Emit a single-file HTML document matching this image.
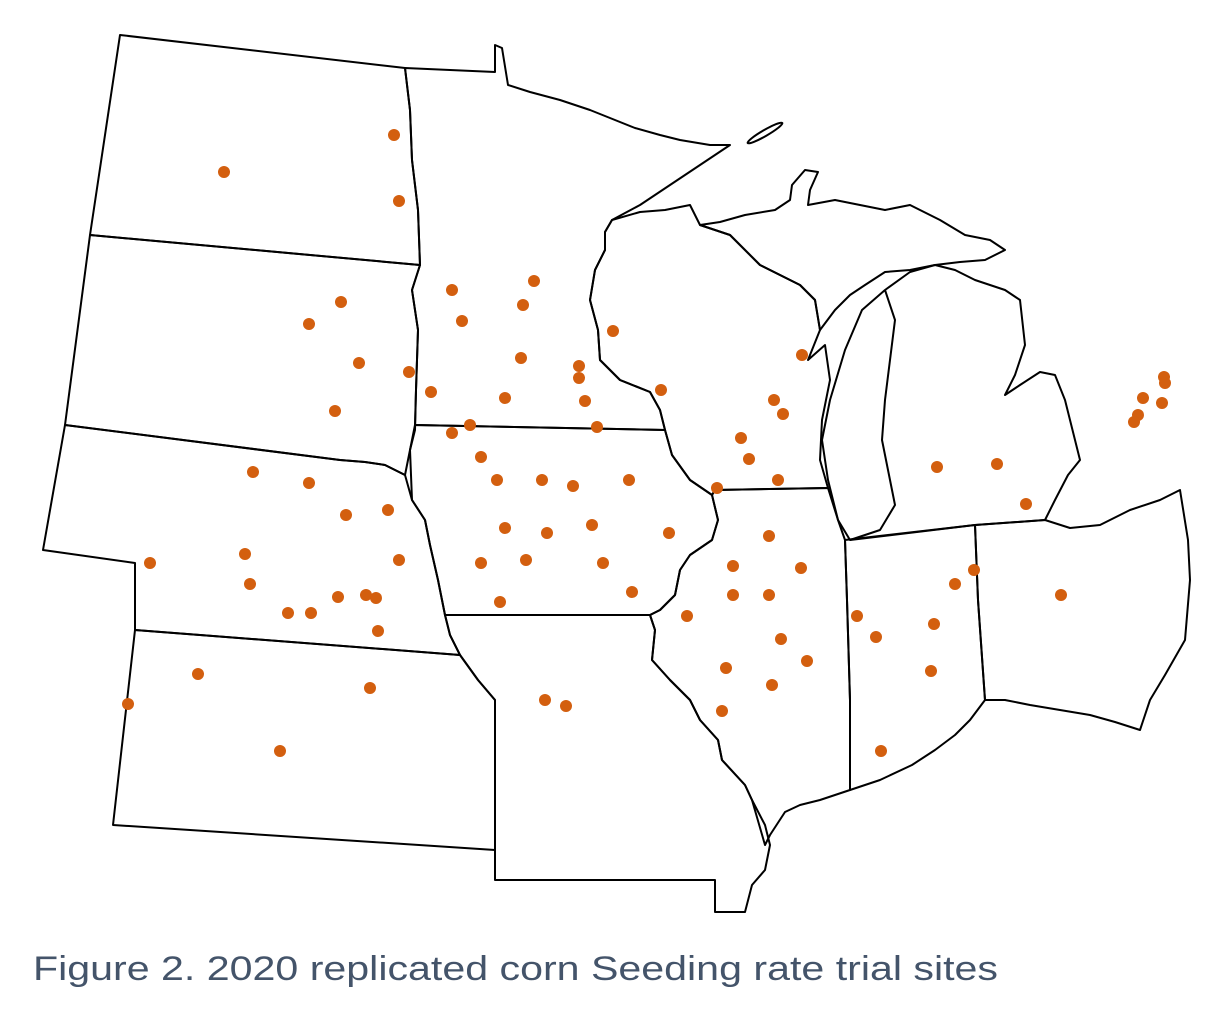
<!DOCTYPE html>
<html><head><meta charset="utf-8"><style>
html,body{margin:0;padding:0;background:#fff;}
svg{display:block;}
</style></head><body>
<svg width="1214" height="1025" viewBox="0 0 1214 1025" xmlns="http://www.w3.org/2000/svg">
<g fill="none" stroke="#000" stroke-width="2" stroke-linejoin="round">
<!-- ND -->
<path d="M120,35 L405,68 L410,110 L412,160 L418,210 L420,265 L90,235 Z"/>
<!-- SD -->
<path d="M90,235 L420,265 L412,290 L418,330 L416,390 L415,430 L410,450 L405,475 L385,465 L365,462 L340,460 L65,425 Z"/>
<!-- NE -->
<path d="M65,425 L340,460 L365,462 L385,465 L405,475 L412,500 L425,520 L430,545 L438,580 L445,615 L450,635 L460,655 L135,630 L135,563 L43,550 Z"/>
<!-- KS -->
<path d="M135,630 L460,655 L478,680 L495,700 L495,850 L113,825 Z"/>
<!-- MN -->
<path d="M405,68 L495,72 L495,45 L502,48 L508,85 L530,92 L560,100 L590,110 L610,118 L635,128 L660,135 L680,140 L710,145 L730,145 L700,165 L670,185 L640,205 L612,220 L605,232 L605,250 L595,270 L590,300 L598,330 L600,360 L620,380 L650,392 L660,410 L665,430 L415,425 L416,390 L418,330 L412,290 L420,265 L418,210 L412,160 L410,110 Z"/>
<!-- IA -->
<path d="M415,425 L665,430 L672,455 L690,480 L712,495 L718,520 L712,540 L690,555 L680,570 L675,595 L660,610 L650,615 L445,615 L438,580 L430,545 L425,520 L412,500 L410,450 Z"/>
<!-- MO -->
<path d="M445,615 L650,615 L655,630 L652,660 L670,680 L690,700 L700,720 L718,740 L722,760 L745,785 L752,800 L765,825 L770,845 L765,870 L752,885 L745,912 L715,912 L715,880 L495,880 L495,700 L478,680 L460,655 L450,635 Z"/>
<!-- IL -->
<path d="M712,495 L715,490 L828,488 L838,520 L845,540 L847,600 L850,700 L850,790 L835,795 L820,800 L800,805 L785,812 L770,835 L765,845 L752,800 L745,785 L722,760 L718,740 L700,720 L690,700 L670,680 L652,660 L655,630 L650,615 L660,610 L675,595 L680,570 L690,555 L712,540 L718,520 Z"/>
<!-- WI -->
<path d="M605,232 L612,220 L640,212 L665,210 L690,205 L700,225 L730,235 L760,265 L800,285 L815,300 L820,330 L808,360 L825,345 L830,380 L822,420 L820,460 L828,488 L715,490 L712,495 L690,480 L672,455 L665,430 L660,410 L650,392 L620,380 L600,360 L598,330 L590,300 L595,270 L605,250 Z"/>
<!-- MI UP -->
<path d="M700,225 L720,222 L745,215 L775,210 L790,200 L792,185 L805,170 L818,172 L810,190 L808,205 L835,200 L860,205 L885,210 L910,205 L940,220 L965,235 L990,240 L1005,250 L985,260 L960,262 L935,265 L910,270 L885,272 L865,285 L850,295 L835,310 L820,330 L815,300 L800,285 L760,265 L730,235 Z"/>
<!-- MI LP -->
<path d="M850,540 L838,520 L828,480 L822,440 L830,400 L845,350 L862,310 L885,290 L910,272 L935,265 L955,270 L975,280 L1005,290 L1020,300 L1025,345 L1015,375 L1005,395 L1020,385 L1040,372 L1055,375 L1065,400 L1075,440 L1080,460 L1068,475 L1055,500 L1045,520 L975,525 Z"/>
<path d="M885,290 L895,320 L890,360 L885,400 L882,440 L890,480 L895,505 L880,530 L850,540"/>
<!-- IN -->
<path d="M845,540 L975,525 L978,600 L985,700 L970,720 L955,735 L935,750 L912,765 L880,780 L850,790 L850,700 L847,600 Z"/>
<!-- OH -->
<path d="M975,525 L1045,520 L1070,528 L1100,525 L1130,510 L1160,500 L1180,490 L1188,540 L1190,580 L1185,640 L1165,675 L1150,700 L1140,730 L1115,722 L1090,715 L1060,710 L1030,705 L1005,700 L985,700 L978,600 Z"/>
<!-- lake islands -->
<ellipse cx="765" cy="133" rx="20" ry="3" transform="rotate(-30 765 133)"/>
</g>
<g fill="#d35f0f">
<circle cx="224" cy="172" r="6"/><circle cx="394" cy="135" r="6"/><circle cx="399" cy="201" r="6"/><circle cx="341" cy="302" r="6"/><circle cx="309" cy="324" r="6"/><circle cx="359" cy="363" r="6"/><circle cx="409" cy="372" r="6"/><circle cx="335" cy="411" r="6"/><circle cx="452" cy="290" r="6"/><circle cx="462" cy="321" r="6"/><circle cx="534" cy="281" r="6"/><circle cx="523" cy="305" r="6"/><circle cx="521" cy="358" r="6"/><circle cx="505" cy="398" r="6"/><circle cx="431" cy="392" r="6"/><circle cx="579" cy="366" r="6"/><circle cx="579" cy="378" r="6"/><circle cx="585" cy="401" r="6"/><circle cx="597" cy="427" r="6"/><circle cx="613" cy="331" r="6"/><circle cx="661" cy="390" r="6"/><circle cx="470" cy="425" r="6"/><circle cx="452" cy="433" r="6"/><circle cx="481" cy="457" r="6"/><circle cx="497" cy="480" r="6"/><circle cx="542" cy="480" r="6"/><circle cx="573" cy="486" r="6"/><circle cx="629" cy="480" r="6"/><circle cx="505" cy="528" r="6"/><circle cx="547" cy="533" r="6"/><circle cx="592" cy="525" r="6"/><circle cx="669" cy="533" r="6"/><circle cx="481" cy="563" r="6"/><circle cx="526" cy="560" r="6"/><circle cx="603" cy="563" r="6"/><circle cx="632" cy="592" r="6"/><circle cx="500" cy="602" r="6"/><circle cx="253" cy="472" r="6"/><circle cx="309" cy="483" r="6"/><circle cx="346" cy="515" r="6"/><circle cx="388" cy="510" r="6"/><circle cx="399" cy="560" r="6"/><circle cx="150" cy="563" r="6"/><circle cx="245" cy="554" r="6"/><circle cx="250" cy="584" r="6"/><circle cx="288" cy="613" r="6"/><circle cx="311" cy="613" r="6"/><circle cx="338" cy="597" r="6"/><circle cx="366" cy="595" r="6"/><circle cx="376" cy="598" r="6"/><circle cx="378" cy="631" r="6"/><circle cx="198" cy="674" r="6"/><circle cx="128" cy="704" r="6"/><circle cx="370" cy="688" r="6"/><circle cx="280" cy="751" r="6"/><circle cx="545" cy="700" r="6"/><circle cx="566" cy="706" r="6"/><circle cx="802" cy="355" r="6"/><circle cx="774" cy="400" r="6"/><circle cx="783" cy="414" r="6"/><circle cx="741" cy="438" r="6"/><circle cx="749" cy="459" r="6"/><circle cx="778" cy="480" r="6"/><circle cx="717" cy="488" r="6"/><circle cx="769" cy="536" r="6"/><circle cx="733" cy="566" r="6"/><circle cx="801" cy="568" r="6"/><circle cx="733" cy="595" r="6"/><circle cx="769" cy="595" r="6"/><circle cx="687" cy="616" r="6"/><circle cx="781" cy="639" r="6"/><circle cx="807" cy="661" r="6"/><circle cx="726" cy="668" r="6"/><circle cx="772" cy="685" r="6"/><circle cx="722" cy="711" r="6"/><circle cx="857" cy="616" r="6"/><circle cx="876" cy="637" r="6"/><circle cx="955" cy="584" r="6"/><circle cx="974" cy="570" r="6"/><circle cx="934" cy="624" r="6"/><circle cx="931" cy="671" r="6"/><circle cx="881" cy="751" r="6"/><circle cx="937" cy="467" r="6"/><circle cx="997" cy="464" r="6"/><circle cx="1026" cy="504" r="6"/><circle cx="1061" cy="595" r="6"/><circle cx="1164" cy="377" r="6"/><circle cx="1165" cy="383" r="6"/><circle cx="1143" cy="398" r="6"/><circle cx="1162" cy="403" r="6"/><circle cx="1138" cy="415" r="6"/><circle cx="1134" cy="422" r="6"/>
</g>
<text x="33" y="980" font-family="Liberation Sans, sans-serif" font-size="34" fill="#44546a" textLength="965" lengthAdjust="spacingAndGlyphs">Figure 2. 2020 replicated corn Seeding rate trial sites</text>
</svg>
</body></html>
